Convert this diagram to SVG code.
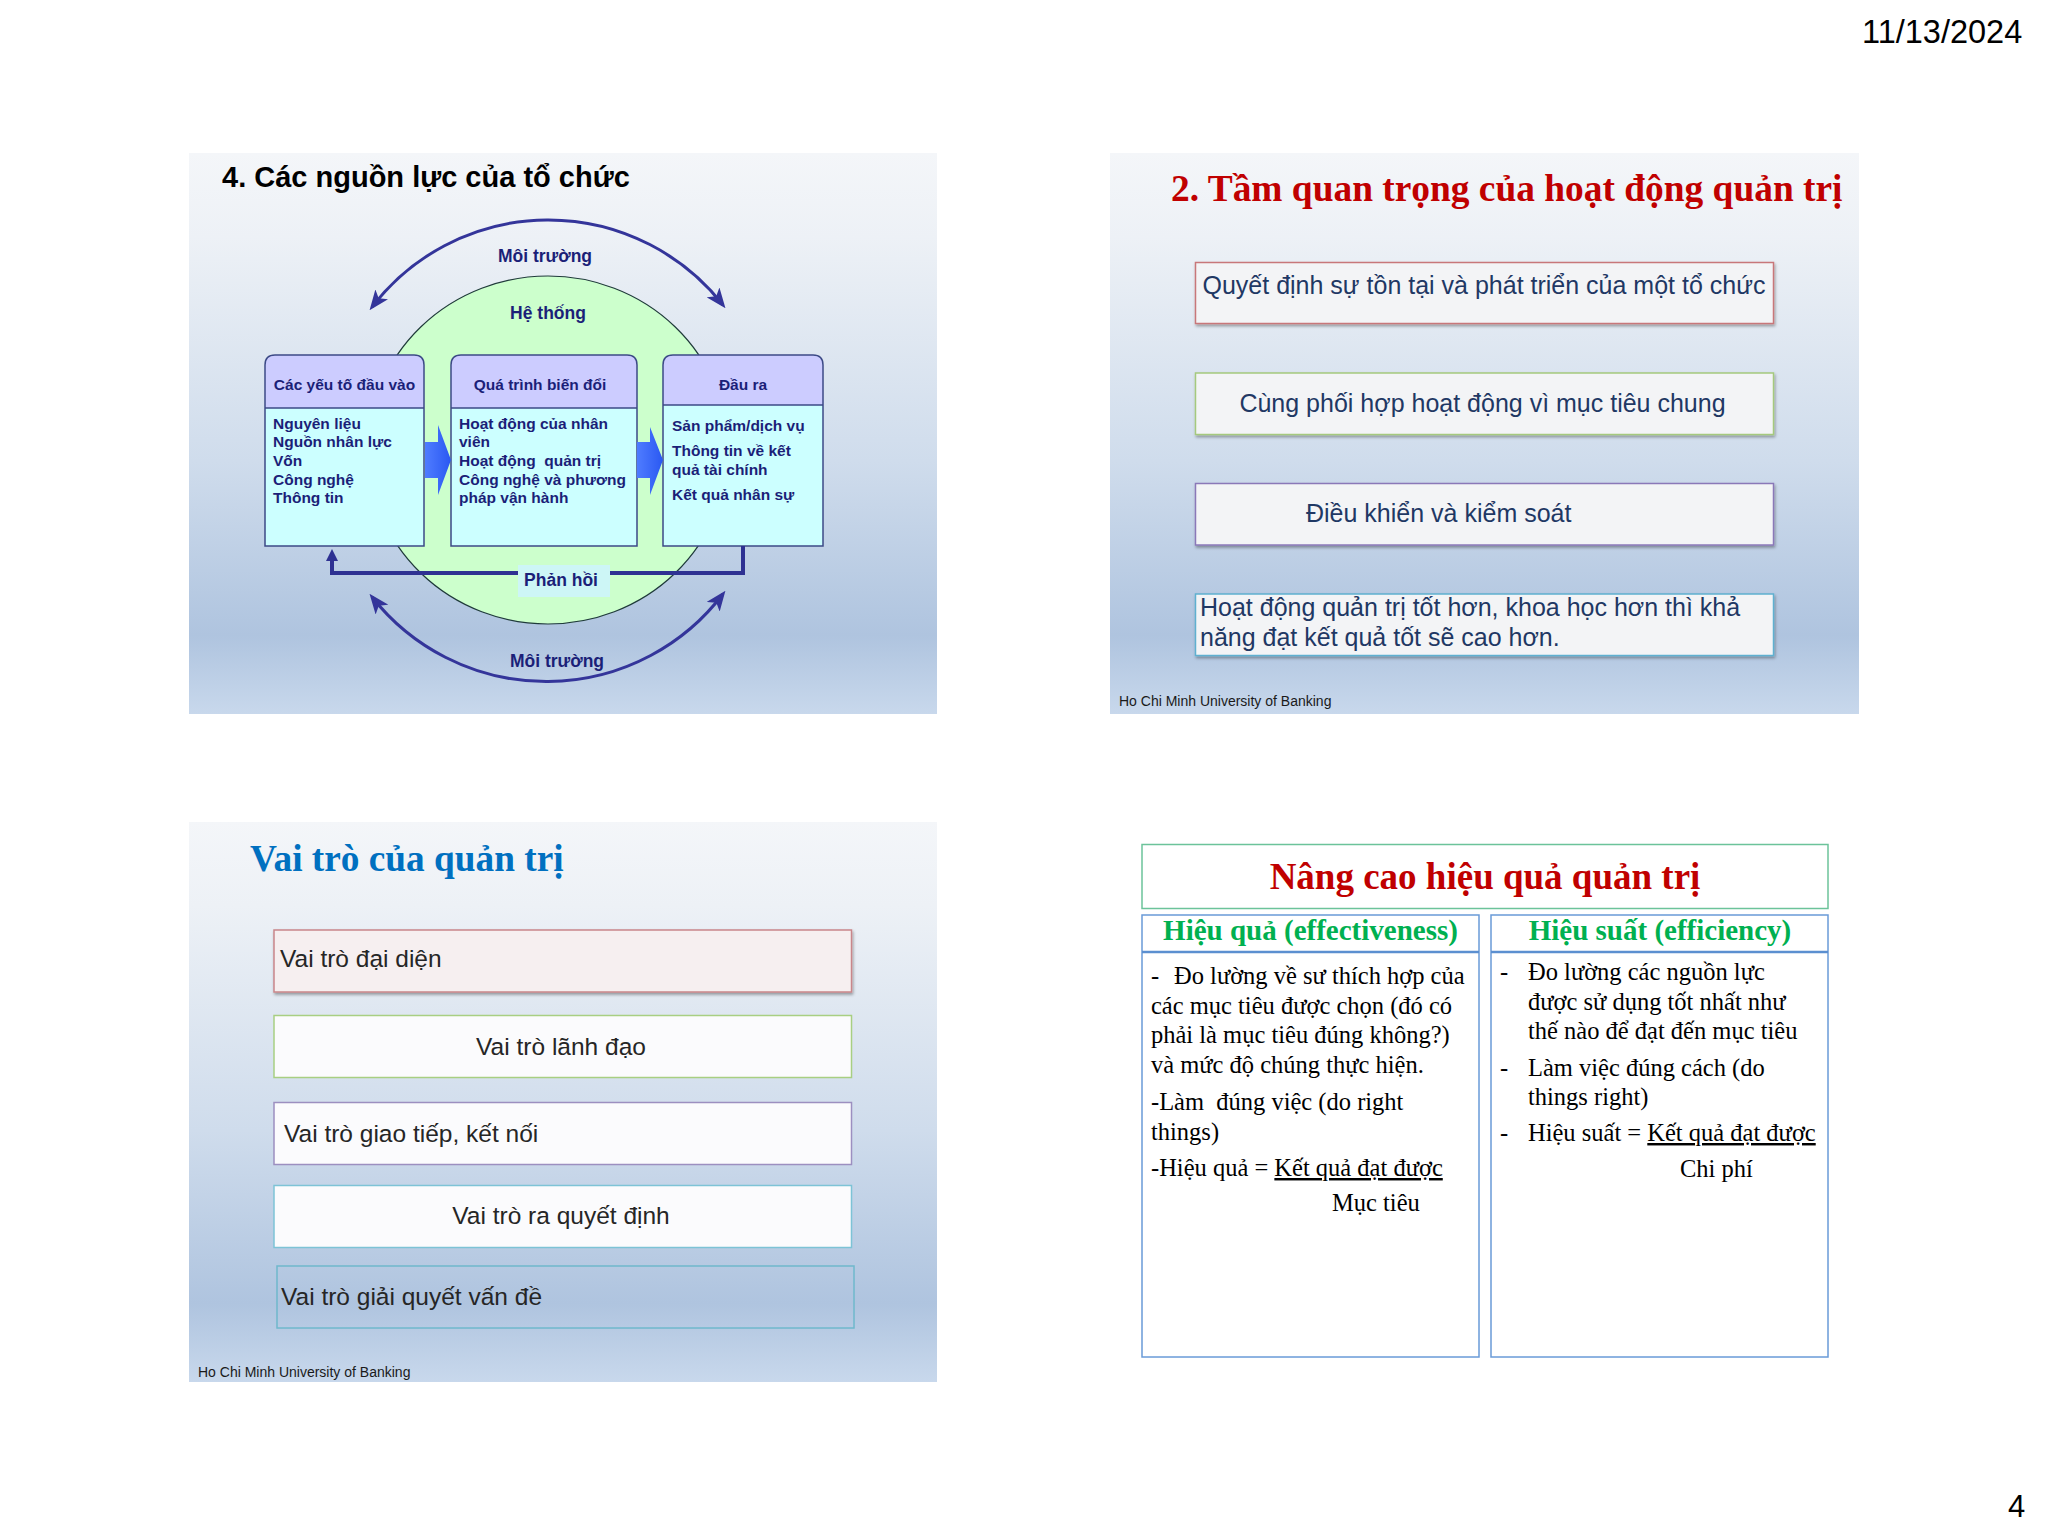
<svg xmlns="http://www.w3.org/2000/svg" width="2048" height="1536" viewBox="0 0 2048 1536">
<defs>
<linearGradient id="bg" x1="0" y1="0" x2="0" y2="1">
<stop offset="0" stop-color="#f4f6f9"/>
<stop offset="0.15" stop-color="#edf1f6"/>
<stop offset="0.55" stop-color="#cfdcec"/>
<stop offset="0.86" stop-color="#afc4df"/>
<stop offset="1" stop-color="#c8d8ec"/>
</linearGradient>
<linearGradient id="blk" x1="0" y1="0" x2="1" y2="0">
<stop offset="0" stop-color="#4f7cff"/>
<stop offset="1" stop-color="#2a58f2"/>
</linearGradient>
<marker id="ah" markerUnits="userSpaceOnUse" markerWidth="20" markerHeight="16" viewBox="0 0 20 16" refX="16" refY="8" orient="auto-start-reverse">
<path d="M0,0 L20,8 L0,16 L5,8 Z" fill="#34359a"/>
</marker>
<marker id="fb" markerUnits="userSpaceOnUse" markerWidth="12" markerHeight="12" viewBox="0 0 12 12" refX="8" refY="6" orient="auto">
<path d="M0,0 L12,6 L0,12 Z" fill="#2e3192"/>
</marker>
<filter id="sh" x="-5%" y="-20%" width="110%" height="150%">
<feDropShadow dx="1" dy="2" stdDeviation="1.5" flood-color="#000" flood-opacity="0.35"/>
</filter>
<style>
.sans{font-family:"Liberation Sans",Arial,sans-serif}
.serif{font-family:"Liberation Serif","Times New Roman",serif}
.s1{font-family:"Liberation Sans",Arial,sans-serif;font-weight:bold;fill:#1b1f78;font-size:15.5px}
.s1l{font-family:"Liberation Sans",Arial,sans-serif;font-weight:bold;fill:#1b1f78;font-size:17.5px}
.hdr{fill:#ccccff}
.body{fill:#ccffff}
.bx{fill:none;stroke:#3c4a86;stroke-width:1.5}
.arc{fill:none;stroke:#34359a;stroke-width:3}
.t2{font-family:"Liberation Sans",Arial,sans-serif;font-size:25px;fill:#1f3864}
.t3{font-family:"Liberation Sans",Arial,sans-serif;font-size:24.5px;fill:#262626}
.foot{font-family:"Liberation Sans",Arial,sans-serif;font-size:14px;fill:#1a1a1a}
.b2{fill:#f3f4f6;stroke-width:1.5;filter:url(#sh)}
.t4{font-family:"Liberation Serif","Times New Roman",serif;font-size:24.5px;fill:#000}
.h4{font-family:"Liberation Serif","Times New Roman",serif;font-size:29px;font-weight:bold;fill:#00b050}
.col{fill:#fff;stroke:#6a9bd8;stroke-width:1.5}
</style>
</defs>
<rect width="2048" height="1536" fill="#fff"/>

<!-- Slide 1 -->
<g id="slide1">
<rect x="189" y="153" width="748" height="561" fill="url(#bg)"/>
<text x="222" y="186.5" class="sans" font-size="29" font-weight="bold" fill="#000">4. Các nguồn lực của tổ chức</text>
<g id="system">
<ellipse cx="548" cy="450" rx="180" ry="174" fill="#ccffcc" stroke="#1f3a3a" stroke-width="1.2"/>
<text x="548" y="319" class="s1l" text-anchor="middle">Hệ thống</text>
</g>
<g id="env-top"><text x="545" y="262" class="s1l" text-anchor="middle">Môi trường</text></g>
<g id="env-bottom"><text x="557" y="667" class="s1l" text-anchor="middle">Môi trường</text></g>
<g id="box-input">
<path d="M265,365 Q265,355 275,355 H414 Q424,355 424,365 V408 H265 Z" class="hdr"/>
<rect x="265" y="408" width="159" height="138" class="body"/>
<path d="M265,365 Q265,355 275,355 H414 Q424,355 424,365 V546 H265 Z M265,408 H424" class="bx"/>
<text x="344.5" y="390" class="s1" text-anchor="middle">Các yếu tố đầu vào</text>
<text class="s1"><tspan x="273" y="428.5">Nguyên liệu</tspan><tspan x="273" y="447.2">Nguồn nhân lực</tspan><tspan x="273" y="465.9">Vốn</tspan><tspan x="273" y="484.6">Công nghệ</tspan><tspan x="273" y="503.3">Thông tin</tspan></text>
</g>
<g id="box-process">
<path d="M451,365 Q451,355 461,355 H627 Q637,355 637,365 V408 H451 Z" class="hdr"/>
<rect x="451" y="408" width="186" height="138" class="body"/>
<path d="M451,365 Q451,355 461,355 H627 Q637,355 637,365 V546 H451 Z M451,408 H637" class="bx"/>
<text x="540" y="390" class="s1" text-anchor="middle">Quá trình biến đổi</text>
<text class="s1" xml:space="preserve"><tspan x="459" y="428.5">Hoạt động của nhân</tspan><tspan x="459" y="447.2">viên</tspan><tspan x="459" y="465.9">Hoạt động  quản trị</tspan><tspan x="459" y="484.6">Công nghệ và phương</tspan><tspan x="459" y="503.3">pháp vận hành</tspan></text>
</g>
<g id="box-output">
<path d="M663,365 Q663,355 673,355 H813 Q823,355 823,365 V405 H663 Z" class="hdr"/>
<rect x="663" y="405" width="160" height="141" class="body"/>
<path d="M663,365 Q663,355 673,355 H813 Q823,355 823,365 V546 H663 Z M663,405 H823" class="bx" stroke="#1c2240"/>
<text x="743" y="390" class="s1" text-anchor="middle">Đầu ra</text>
<text class="s1"><tspan x="672" y="430.5">Sản phẩm/dịch vụ</tspan><tspan x="672" y="455.5">Thông tin về kết</tspan><tspan x="672" y="474.5">quả tài chính</tspan><tspan x="672" y="499.5">Kết quả nhân sự</tspan></text>
</g>
<g id="connectors">
<path d="M372,307 A222,222 0 0 1 723,305" class="arc" marker-start="url(#ah)" marker-end="url(#ah)"/>
<path d="M372,597 A222,222 0 0 0 723,594" class="arc" marker-start="url(#ah)" marker-end="url(#ah)"/>
<polygon points="425,442 438,442 438,425 451,460 438,495 438,478 425,478" fill="url(#blk)"/>
<polygon points="637,442 650,442 650,427 663,460 650,495 650,478 637,478" fill="url(#blk)"/>
<path d="M743,546 V573 H332 V553" fill="none" stroke="#2e3192" stroke-width="4" marker-end="url(#fb)"/>
</g>
<g id="feedback-label">
<rect x="518" y="565" width="92" height="32" fill="#cdf6f6"/>
<text x="561" y="586" class="s1l" text-anchor="middle">Phản hồi</text>
</g>
</g>

<!-- Slide 2 -->
<g id="slide2">
<rect x="1110" y="153" width="749" height="561" fill="url(#bg)"/>
<text x="1171" y="200.5" class="serif" font-size="37.4" font-weight="bold" fill="#c00000">2. Tầm quan trọng của hoạt động quản trị</text>
<g id="s2-box1">
<rect x="1195.5" y="262.5" width="578" height="61" class="b2" stroke="#c8777a"/>
<text x="1202.5" y="293.5" class="t2">Quyết định sự tồn tại và phát triển của một tổ chức</text>
</g>
<g id="s2-box2">
<rect x="1195.5" y="373" width="578" height="61.5" class="b2" stroke="#a5c97e"/>
<text x="1482.5" y="411.5" class="t2" text-anchor="middle">Cùng phối hợp hoạt động vì mục tiêu chung</text>
</g>
<g id="s2-box3">
<rect x="1195.5" y="483.5" width="578" height="61.5" class="b2" stroke="#8a78b8"/>
<text x="1306" y="522" class="t2">Điều khiển và kiểm soát</text>
</g>
<g id="s2-box4">
<rect x="1195.5" y="594" width="578" height="61.5" class="b2" stroke="#5fb0d0"/>
<text class="t2"><tspan x="1200" y="615.5">Hoạt động quản trị tốt hơn, khoa học hơn thì khả</tspan><tspan x="1200" y="645.5">năng đạt kết quả tốt sẽ cao hơn.</tspan></text>
</g>
<text x="1119" y="705.5" class="foot">Ho Chi Minh University of Banking</text>
</g>

<!-- Slide 3 -->
<g id="slide3">
<rect x="189" y="822" width="748" height="560" fill="url(#bg)"/>
<text x="250" y="871" class="serif" font-size="37.3" font-weight="bold" fill="#0070c0">Vai trò của quản trị</text>
<g id="s3-box1">
<rect x="274" y="930" width="577.5" height="62" fill="#f6eff0" stroke="#c9868a" stroke-width="1.5" filter="url(#sh)"/>
<text x="280" y="967" class="t3">Vai trò đại diện</text>
</g>
<g id="s3-box2">
<rect x="274" y="1015.5" width="577.5" height="62" fill="#fbfbfd" stroke="#a8cf82" stroke-width="1.5"/>
<text x="561" y="1055" class="t3" text-anchor="middle">Vai trò lãnh đạo</text>
</g>
<g id="s3-box3">
<rect x="274" y="1102.5" width="577.5" height="62" fill="#fbfbfd" stroke="#9c8fc0" stroke-width="1.5"/>
<text x="284" y="1141.5" class="t3">Vai trò giao tiếp, kết nối</text>
</g>
<g id="s3-box4">
<rect x="274" y="1185.5" width="577.5" height="62" fill="#fbfbfd" stroke="#7dc3d6" stroke-width="1.5"/>
<text x="561" y="1223.5" class="t3" text-anchor="middle">Vai trò ra quyết định</text>
</g>
<g id="s3-box5">
<rect x="277" y="1266" width="577" height="62" fill="none" stroke="#6fb8cc" stroke-width="1.5"/>
<text x="281" y="1304.5" class="t3">Vai trò giải quyết vấn đề</text>
</g>
<text x="198" y="1377" class="foot">Ho Chi Minh University of Banking</text>
</g>

<!-- Slide 4 -->
<g id="slide4">
<g id="s4-title">
<rect x="1142" y="844.5" width="686" height="64" fill="#fff" stroke="#6cc39a" stroke-width="1.5"/>
<text x="1485" y="889" class="serif" font-size="37" font-weight="bold" fill="#c00000" text-anchor="middle">Nâng cao hiệu quả quản trị</text>
</g>
<g id="s4-effectiveness">
<rect x="1142" y="915" width="337" height="442" class="col"/>
<line x1="1142" y1="952" x2="1479" y2="952" stroke="#5b8fd0" stroke-width="2.5"/>
<text x="1310.5" y="940" class="h4" text-anchor="middle">Hiệu quả (effectiveness)</text>
<text class="t4" xml:space="preserve"><tspan x="1151" y="983.5">-</tspan><tspan x="1174" y="983.5">Đo lường về sư thích hợp của</tspan><tspan x="1151" y="1013.5">các mục tiêu được chọn (đó có</tspan><tspan x="1151" y="1043">phải là mục tiêu đúng không?)</tspan><tspan x="1151" y="1073">và mức độ chúng thực hiện.</tspan><tspan x="1151" y="1110">-Làm  đúng việc (do right</tspan><tspan x="1151" y="1139.5">things)</tspan><tspan x="1151" y="1176">-Hiệu quả = </tspan><tspan text-decoration="underline">Kết quả đạt được</tspan><tspan x="1332" y="1211">Mục tiêu</tspan></text>
</g>
<g id="s4-efficiency">
<rect x="1491" y="915" width="337" height="442" class="col"/>
<line x1="1491" y1="952" x2="1828" y2="952" stroke="#5b8fd0" stroke-width="2.5"/>
<text x="1660" y="940" class="h4" text-anchor="middle">Hiệu suất (efficiency)</text>
<text class="t4" xml:space="preserve"><tspan x="1500" y="980">-</tspan><tspan x="1528" y="980">Đo lường các nguồn lực</tspan><tspan x="1528" y="1009.5">được sử dụng tốt nhất như</tspan><tspan x="1528" y="1039">thế nào để đạt đến mục tiêu</tspan><tspan x="1500" y="1075.5">-</tspan><tspan x="1528" y="1075.5">Làm việc đúng cách (do</tspan><tspan x="1528" y="1104.5">things right)</tspan><tspan x="1500" y="1141">-</tspan><tspan x="1528" y="1141">Hiệu suất = </tspan><tspan text-decoration="underline">Kết quả đạt được</tspan><tspan x="1680" y="1176.5">Chi phí</tspan></text>
</g>
</g>

<text x="1862" y="43" class="sans" font-size="32.5" fill="#000">11/13/2024</text>
<text x="2008" y="1517" class="sans" font-size="31" fill="#000">4</text>
</svg>
